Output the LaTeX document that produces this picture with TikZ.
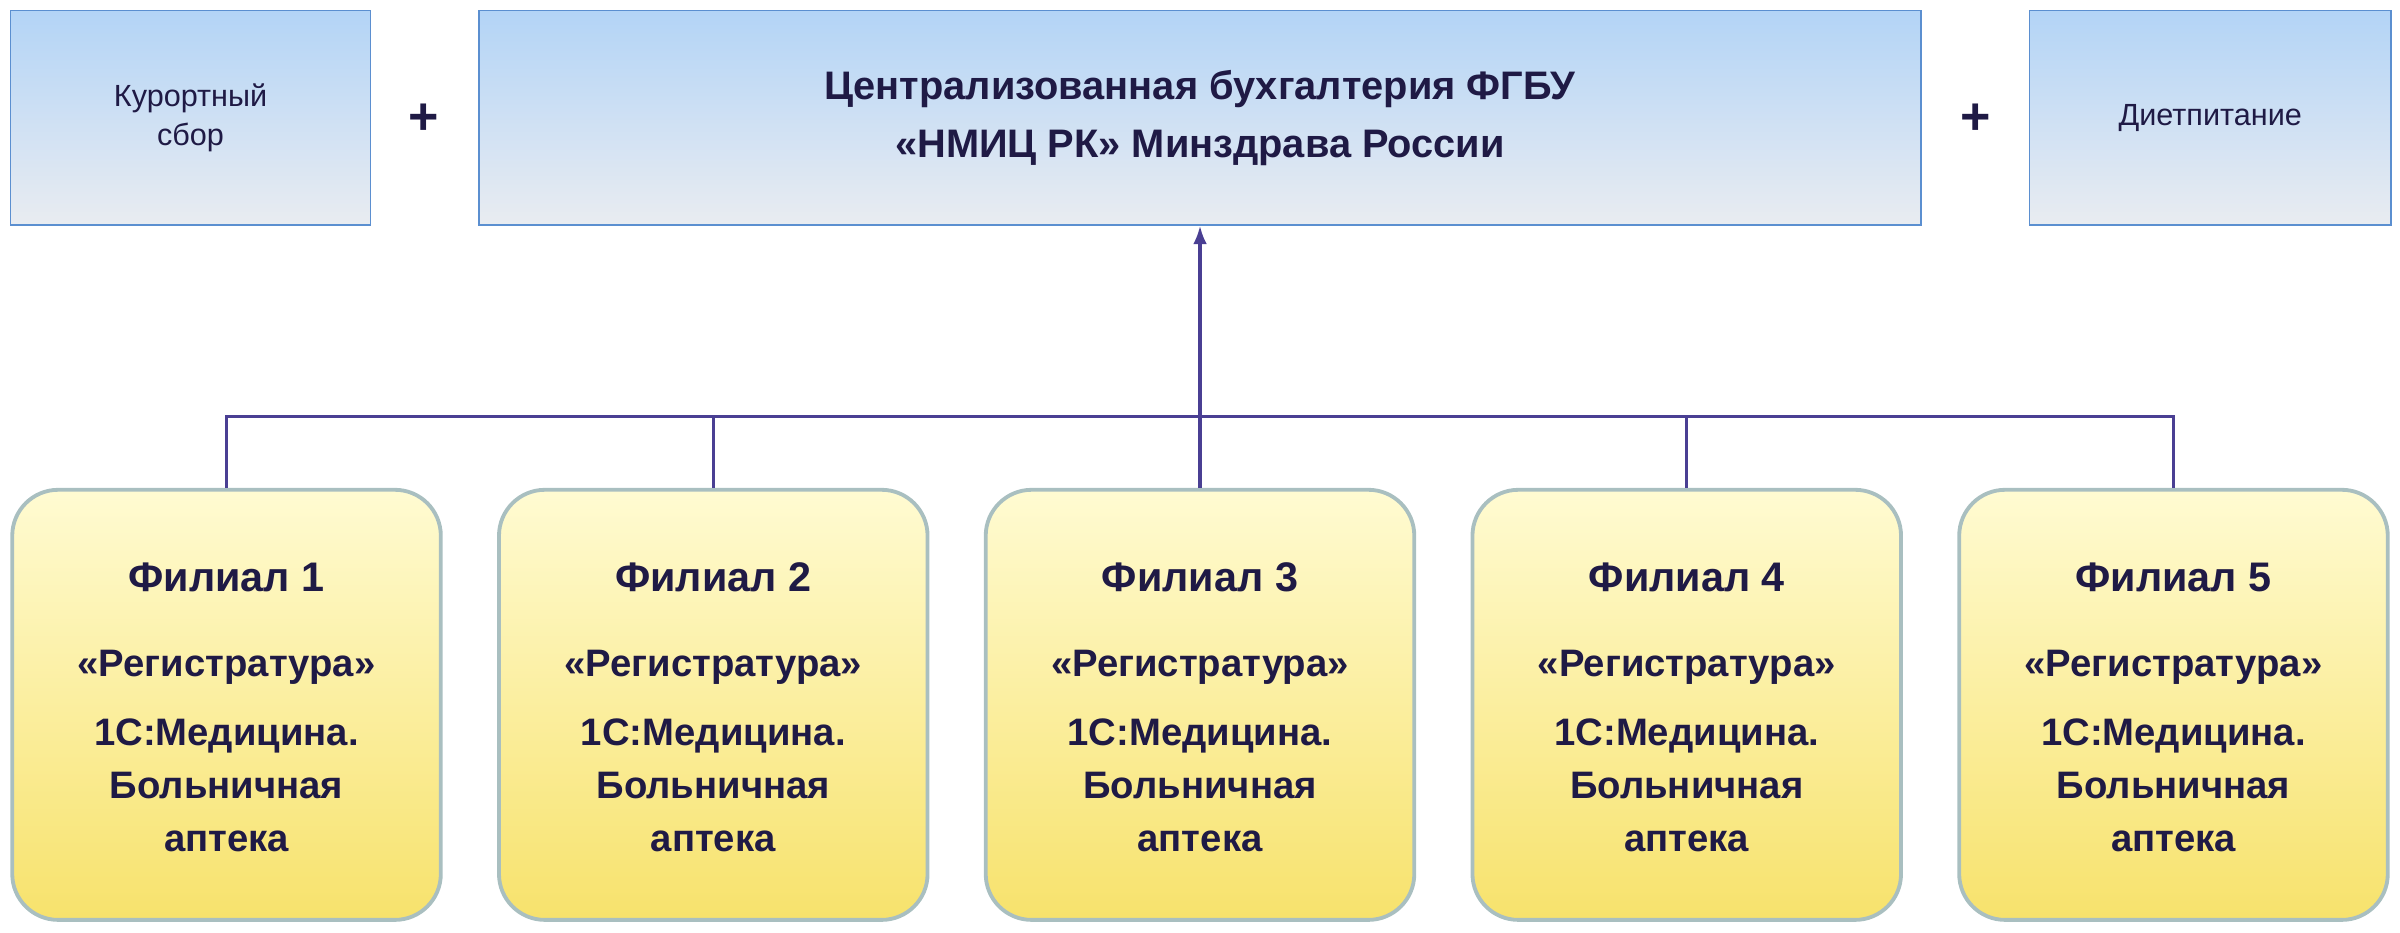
\documentclass[tikz,border=0pt]{standalone}
\usepackage{fontspec}
\setmainfont{Liberation Sans}
\usetikzlibrary{arrows.meta}
\definecolor{txt}{HTML}{1F1A45}
\definecolor{bluebd}{HTML}{5B8FD0}
\definecolor{bluetop}{HTML}{B3D4F6}
\definecolor{bluebot}{HTML}{E9ECF1}
\definecolor{ylwtop}{HTML}{FFFBD2}
\definecolor{ylwbot}{HTML}{F7E26C}
\definecolor{ylwbd}{HTML}{A9BFC0}
\definecolor{conn}{HTML}{4A3F93}
\begin{document}
\begin{tikzpicture}[x=1pt,y=-1pt,
  topbox/.style={draw=bluebd,line width=1pt,top color=bluetop,bottom color=bluebot,align=center,text=txt,inner sep=0pt},
  filbox/.style={draw=ylwbd,line width=2.5pt,rounded corners=30pt,top color=ylwtop,bottom color=ylwbot,minimum width=280pt,minimum height=281pt,inner sep=0pt},
  plus/.style={text=txt,font=\fontsize{34}{34}\selectfont\bfseries},
  conline/.style={draw=conn,line width=2pt}]
\useasboundingbox (0,0) rectangle (1568,609);
\node[topbox,minimum width=235pt,minimum height=140pt,font=\fontsize{20}{26}\selectfont] (kur) at (124.5,77) {Курортный\\сбор};
\node[topbox,minimum width=942pt,minimum height=140pt,font=\fontsize{26}{38}\selectfont\bfseries] (cb) at (784,77) {Централизованная бухгалтерия ФГБУ\\«НМИЦ РК» Минздрава России};
\node[topbox,minimum width=236pt,minimum height=140pt,font=\fontsize{20}{26}\selectfont] (diet) at (1444,77) {Диетпитание};
\node[plus] (p1) at (277,78) {+};
\node[plus] (p2) at (1291,78) {+};
\foreach \i/\x in {1/148,2/466,3/784,4/1102,5/1420}{
  \node[filbox] (f\i) at (\x,460.5) {};
  \node[text=txt,font=\fontsize{27}{27}\selectfont\bfseries] at (\x,377) {Филиал \i};
  \node[text=txt,font=\fontsize{25}{25}\selectfont\bfseries] at (\x,436) {«Регистратура»};
  \node[text=txt,font=\fontsize{25}{34.5}\selectfont\bfseries,align=center,anchor=north] at (\x,466) {1С:Медицина.\\Больничная\\аптека};
}
\coordinate (bl) at (148,272);
\coordinate (br) at (1420,272);
\draw[conline] (f1.north) -- (bl) -- (br) -- (f5.north);
\foreach \i in {2,3,4}{\draw[conline] (f\i.north) -- (f\i.north |- bl);}
\draw[conline,-{Latex[length=12pt,width=9pt]}] (f3.north |- bl) -- (cb.south);
\end{tikzpicture}
\end{document}
